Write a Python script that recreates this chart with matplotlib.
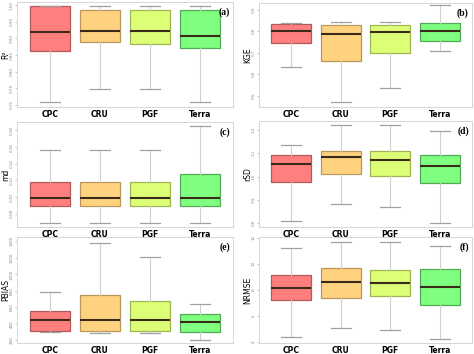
import matplotlib
matplotlib.use("Agg")
import matplotlib.pyplot as plt

# products on the x axis
products = ["CPC", "CRU", "PGF", "Terra"]

# five-number summaries per product: [lower whisker, q1, median, q3, upper whisker]
r2_stats = [[0.707, 0.862, 0.918, 0.998, 0.998],
            [0.748, 0.888, 0.922, 0.987, 0.998],
            [0.748, 0.882, 0.922, 0.987, 0.998],
            [0.707, 0.872, 0.908, 0.987, 0.998]]
kge_stats = [[0.635, 0.747, 0.799, 0.833, 0.838],
             [0.469, 0.660, 0.788, 0.830, 0.843],
             [0.534, 0.698, 0.795, 0.830, 0.841],
             [0.709, 0.756, 0.802, 0.836, 0.923]]
md_stats = [[0.069, 0.0888, 0.0992, 0.1176, 0.1568],
            [0.069, 0.0888, 0.0992, 0.1176, 0.1568],
            [0.069, 0.0888, 0.0992, 0.1176, 0.1568],
            [0.069, 0.0888, 0.0992, 0.1272, 0.1856]]
rsd_stats = [[0.810, 0.976, 1.055, 1.092, 1.137],
             [0.882, 1.010, 1.083, 1.109, 1.223],
             [0.869, 1.004, 1.073, 1.111, 1.220],
             [0.801, 0.973, 1.047, 1.092, 1.194]]
pbias_stats = [[300, 312, 444, 556, 784],
               [292, 312, 452, 752, 1384],
               [292, 312, 444, 672, 1212],
               [208, 304, 424, 516, 640]]
nrmse_stats = [[4.38, 7.24, 8.10, 9.15, 11.18],
               [5.07, 7.39, 8.59, 9.66, 11.67],
               [4.89, 7.49, 8.51, 9.50, 11.69],
               [4.23, 6.85, 8.18, 9.60, 11.36]]

# y ticks per panel
r2_ticks = [0.70, 0.75, 0.80, 0.85, 0.90, 0.95, 1.00]
kge_ticks = [0.5, 0.6, 0.7, 0.8, 0.9]
md_ticks = [0.08, 0.10, 0.12, 0.14, 0.16, 0.18]
rsd_ticks = [0.8, 0.9, 1.0, 1.1, 1.2]
pbias_ticks = [200, 400, 600, 800, 1000, 1200, 1400]
nrmse_ticks = [4, 6, 8, 10, 12]

face_cols = ["#ff7f7f", "#ffd27f", "#ddff77", "#7fff7f"]
edge_cols = ["#b05a5a", "#b8975a", "#9fb552", "#55aa55"]

W, H = 474, 354
fig = plt.figure(figsize=(W / 100, H / 100), dpi=100)
fig.patch.set_facecolor("white")


def px_axes(x0, y0, x1, y1):
    # pixel box (top-left origin) -> figure fraction
    return fig.add_axes([x0 / W, 1 - y1 / H, (x1 - x0) / W, (y1 - y0) / H])


def panel(box, stats, ticks, ylim, ylabel, letter, fmt):
    ax = px_axes(*box)
    bstats = []
    for name, s in zip(products, stats):
        bstats.append({"label": name, "whislo": s[0], "q1": s[1], "med": s[2],
                       "q3": s[3], "whishi": s[4], "fliers": []})
    bp = ax.bxp(bstats, positions=[1, 2, 3, 4], widths=0.8, patch_artist=True,
                showfliers=False,
                whiskerprops=dict(color="#cfcfcf", linewidth=0.8),
                capprops=dict(color="#a0a0a0", linewidth=0.9),
                medianprops=dict(color="#3a2a1a", linewidth=1.5))
    for patch, fc, ec in zip(bp["boxes"], face_cols, edge_cols):
        patch.set_facecolor(fc)
        patch.set_edgecolor(ec)
        patch.set_linewidth(0.9)
    ax.set_xlim(0.35, 4.65)
    ax.set_ylim(*ylim)
    ax.set_yticks(ticks)
    ax.set_yticklabels([fmt.format(t) for t in ticks], rotation=90,
                       va="center", fontsize=3, color="#888888")
    ax.set_xticks([1, 2, 3, 4])
    ax.set_xticklabels(products, fontsize=5.5, fontweight="bold")
    ax.tick_params(axis="x", length=0, pad=2.5)
    ax.tick_params(axis="y", length=1.5, width=0.4, color="#999999", pad=0.6)
    for sp in ax.spines.values():
        sp.set_color("#d0d0d0")
        sp.set_linewidth(0.6)
    ax.set_ylabel(ylabel, fontsize=5.5, va="center")
    wpx = box[2] - box[0]
    ax.yaxis.set_label_coords(-11.5 / wpx, 0.5)
    ax.text(0.985, 0.95, letter, transform=ax.transAxes, ha="right", va="top",
            fontsize=7, fontweight="bold", family="Liberation Serif")
    return ax


panel((17, 2, 233, 107), r2_stats, r2_ticks, (0.693, 1.01), "R²", "(a)", "{:.2f}")
panel((259, 3, 472, 107), kge_stats, kge_ticks, (0.447, 0.931), "KGE", "(b)", "{:.1f}")
panel((17, 122, 233, 227), md_stats, md_ticks, (0.064, 0.19), "md", "(c)", "{:.2f}")
panel((259, 121, 472, 227), rsd_stats, rsd_ticks, (0.783, 1.239), "rSD", "(d)", "{:.1f}")
panel((17, 237, 233, 343), pbias_stats, pbias_ticks, (168, 1452), "PBIAS", "(e)", "{:d}")
panel((259, 237, 472, 343), nrmse_stats, nrmse_ticks, (3.9, 12.05), "NRMSE", "(f)", "{:d}")

fig.savefig("out.png", dpi=100, facecolor="white")
